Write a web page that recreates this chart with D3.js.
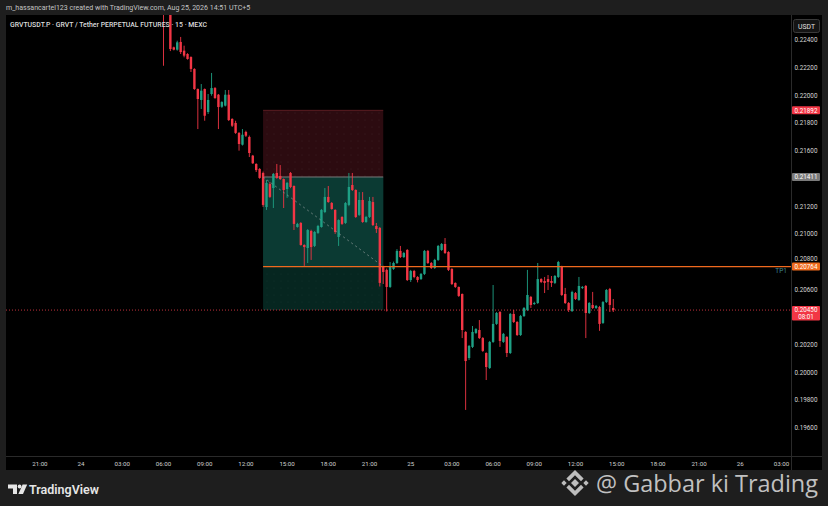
<!DOCTYPE html>
<html><head><meta charset="utf-8">
<script src="https://cdn.jsdelivr.net/npm/d3@7"></script>
<style>
html,body{margin:0;padding:0;background:#1e1e1e;}
svg{display:block;}
</style></head><body>
<svg id="c" width="828" height="506"></svg>
<script>
// ---------- DATA ----------
const candleStart = new Date(2026, 7, 24, 6, 0);   // first 15m candle
const candleMinutes = 15;
// [open, high, low, close]
const candles = [
[0.22700,0.22720,0.22214,0.22680],[0.22690,0.22750,0.22600,0.22660],[0.22660,0.22680,0.22320,0.22335],
[0.22347,0.22352,0.22325,0.22330],[0.22330,0.22395,0.22323,0.22383],[0.22386,0.22422,0.22299,0.22313],
[0.22323,0.22359,0.22275,0.22287],[0.22299,0.22305,0.22258,0.22263],[0.22277,0.22282,0.22169,0.22191],
[0.22191,0.22196,0.22040,0.22046],[0.22046,0.22050,0.21757,0.21974],[0.21967,0.22082,0.21902,0.22034],
[0.22046,0.22050,0.21817,0.21853],[0.21880,0.22010,0.21866,0.21967],[0.22010,0.22162,0.21998,0.22053],
[0.22053,0.22060,0.21975,0.21981],[0.22005,0.22010,0.21757,0.21916],[0.21918,0.21958,0.21910,0.21952],
[0.21926,0.22039,0.21920,0.22005],[0.22005,0.22039,0.21815,0.21822],[0.21830,0.21835,0.21772,0.21781],
[0.21801,0.21817,0.21722,0.21729],[0.21729,0.21735,0.21601,0.21649],[0.21644,0.21757,0.21638,0.21716],
[0.21736,0.21745,0.21700,0.21709],[0.21700,0.21710,0.21555,0.21584],[0.21565,0.21570,0.21505,0.21510],
[0.21505,0.21510,0.21447,0.21461],[0.21469,0.21475,0.21398,0.21404],[0.21440,0.21450,0.21195,0.21209],
[0.21194,0.21390,0.21173,0.21368],[0.21360,0.21375,0.21260,0.21267],[0.21331,0.21440,0.21187,0.21433],
[0.21440,0.21505,0.21398,0.21404],[0.21418,0.21497,0.21390,0.21396],[0.21396,0.21400,0.21187,0.21317],
[0.21324,0.21375,0.21260,0.21368],[0.21440,0.21447,0.21330,0.21339],[0.21346,0.21350,0.21028,0.21072],
[0.21050,0.21080,0.21045,0.21072],[0.21079,0.21085,0.20915,0.20920],[0.20920,0.20925,0.20769,0.20905],
[0.20898,0.21035,0.20790,0.21028],[0.21021,0.21030,0.20812,0.20905],[0.20913,0.21020,0.20905,0.21014],
[0.21007,0.21065,0.21000,0.21057],[0.21050,0.21180,0.21045,0.21173],[0.21158,0.21331,0.21150,0.21267],
[0.21267,0.21346,0.21225,0.21230],[0.21223,0.21230,0.21175,0.21180],[0.21173,0.21178,0.21000,0.21014],
[0.20978,0.21105,0.20913,0.21100],[0.21122,0.21128,0.21065,0.21072],[0.21079,0.21230,0.21072,0.21223],
[0.21209,0.21440,0.21200,0.21339],[0.21353,0.21440,0.21310,0.21317],[0.21317,0.21322,0.21115,0.21122],
[0.21137,0.21302,0.21130,0.21245],[0.21245,0.21302,0.21080,0.21086],[0.21086,0.21130,0.21080,0.21122],
[0.21122,0.21267,0.21115,0.21238],[0.21230,0.21267,0.21057,0.21064],[0.21057,0.21079,0.21007,0.21035],
[0.21043,0.21050,0.20620,0.20646],[0.20761,0.20770,0.20638,0.20725],[0.20740,0.20750,0.20440,0.20617],
[0.20617,0.20797,0.20610,0.20761],[0.20747,0.20800,0.20740,0.20790],[0.20790,0.20890,0.20783,0.20877],
[0.20877,0.20913,0.20826,0.20833],[0.20833,0.20870,0.20826,0.20862],[0.20884,0.20890,0.20660,0.20667],
[0.20667,0.20740,0.20653,0.20732],[0.20732,0.20740,0.20680,0.20689],[0.20689,0.20695,0.20650,0.20667],
[0.20674,0.20718,0.20667,0.20711],[0.20711,0.20884,0.20703,0.20877],[0.20877,0.20884,0.20783,0.20790],
[0.20790,0.20797,0.20747,0.20754],[0.20754,0.20820,0.20747,0.20812],[0.20812,0.20920,0.20805,0.20913],
[0.20884,0.20934,0.20877,0.20927],[0.20927,0.20970,0.20855,0.20862],[0.20869,0.20875,0.20732,0.20740],
[0.20747,0.20752,0.20631,0.20638],[0.20646,0.20650,0.20610,0.20617],[0.20617,0.20620,0.20545,0.20552],
[0.20566,0.20570,0.20248,0.20306],[0.20292,0.20298,0.19729,0.20082],[0.20104,0.20198,0.20090,0.20191],
[0.20184,0.20335,0.20176,0.20292],[0.20285,0.20320,0.20278,0.20313],[0.20306,0.20378,0.20241,0.20248],
[0.20248,0.20255,0.20148,0.20155],[0.20140,0.20145,0.19945,0.20039],[0.20032,0.20227,0.20025,0.20220],
[0.20220,0.20631,0.20213,0.20350],[0.20350,0.20436,0.20343,0.20429],[0.20436,0.20443,0.20184,0.20227],
[0.20220,0.20285,0.20213,0.20278],[0.20256,0.20262,0.20111,0.20140],[0.20140,0.20429,0.20133,0.20422],
[0.20422,0.20451,0.20357,0.20364],[0.20364,0.20370,0.20263,0.20270],[0.20270,0.20415,0.20263,0.20407],
[0.20407,0.20472,0.20400,0.20465],[0.20451,0.20740,0.20443,0.20559],[0.20545,0.20552,0.20465,0.20487],
[0.20494,0.20510,0.20487,0.20501],[0.20501,0.20790,0.20494,0.20674],[0.20674,0.20680,0.20645,0.20653],
[0.20660,0.20689,0.20573,0.20646],[0.20674,0.20703,0.20595,0.20653],[0.20660,0.20696,0.20617,0.20646],
[0.20646,0.20703,0.20638,0.20696],[0.20689,0.20805,0.20682,0.20797],[0.20761,0.20770,0.20552,0.20559],
[0.20566,0.20610,0.20494,0.20501],[0.20501,0.20508,0.20436,0.20451],[0.20443,0.20590,0.20436,0.20581],
[0.20573,0.20580,0.20523,0.20530],[0.20523,0.20689,0.20516,0.20624],[0.20610,0.20624,0.20602,0.20617],
[0.20624,0.20631,0.20248,0.20429],[0.20429,0.20508,0.20422,0.20501],[0.20487,0.20581,0.20458,0.20465],
[0.20465,0.20487,0.20458,0.20480],[0.20472,0.20480,0.20300,0.20350],[0.20357,0.20515,0.20350,0.20508],
[0.20508,0.20602,0.20501,0.20595],[0.20602,0.20610,0.20436,0.20487],[0.20465,0.20530,0.20436,0.20450]
];
const priceTicks = [0.224,0.222,0.220,0.218,0.216,0.212,0.210,0.208,0.206,0.202,0.200,0.198,0.196];
const timeTickStart = new Date(2026, 7, 23, 21, 0);
const timeTickLabels = ["21:00","24","03:00","06:00","09:00","12:00","15:00","18:00","21:00","25",
                        "03:00","06:00","09:00","12:00","15:00","18:00","21:00","26","03:00"];
const position = { start: new Date(2026,7,24,13,15), end: new Date(2026,7,24,22,0),
                   stop: 0.21892, entry: 0.21411, close: 0.20764, target: 0.20450 };
const tpLevel = 0.20764, tpName = "TP1", tpStart = new Date(2026,7,24,13,15);
const lastPrice = 0.20450, countdown = "08:01";
const headerText = "m_hassancartel123 created with TradingView.com, Aug 25, 2026 14:51 UTC+5";
const legendText = "GRVTUSDT.P · GRVT / Tether PERPETUAL FUTURES · 15 · MEXC";
const watermark = "@ Gabbar ki Trading";

// ---------- LAYOUT ----------
const svg = d3.select("#c");
const pane = {l: 6, r: 822, t: 15, b: 470};
const plot = {l: 6, r: 791, t: 15, b: 456};
const UP = "#1ea085", DOWN = "#f23645";
const font = "Roboto, 'Liberation Sans', sans-serif";

const x = d3.scaleTime()
  .domain([new Date(2026,7,24,6,0), new Date(2026,7,26,3,0)])
  .range([163.5, 781.5]);
const y = d3.scaleLinear().domain([0.196, 0.224]).range([427.8, 40]);
const step = x(d3.timeMinute.offset(candleStart, candleMinutes)) - x(candleStart);
const bodyW = step * 0.7;

const defs = svg.append("defs");
defs.append("clipPath").attr("id","plotclip").append("rect")
  .attr("x",plot.l).attr("y",plot.t).attr("width",plot.r-plot.l).attr("height",plot.b-plot.t);
const pat = defs.append("pattern").attr("id","dots").attr("width",7).attr("height",7)
  .attr("patternUnits","userSpaceOnUse");
pat.append("circle").attr("cx",1).attr("cy",1).attr("r",0.45).attr("fill","rgba(255,255,255,0.14)");

// pane background
svg.append("rect").attr("x",pane.l).attr("y",pane.t).attr("width",pane.r-pane.l).attr("height",pane.b-pane.t).attr("fill","#000");

// header
svg.append("text").attr("x",6).attr("y",9.5).attr("font-family",font).attr("font-size",7.05)
  .attr("fill","#c4c4c4").text(headerText);

const g = svg.append("g").attr("clip-path","url(#plotclip)");

// position tool
const bx0 = x(position.start), bx1 = x(position.end);
g.append("rect").attr("x",bx0).attr("width",bx1-bx0).attr("y",y(position.stop))
  .attr("height",y(position.entry)-y(position.stop)).attr("fill","#2c0b10");
g.append("rect").attr("x",bx0).attr("width",bx1-bx0).attr("y",y(position.stop))
  .attr("height",y(position.entry)-y(position.stop)).attr("fill","url(#dots)");
g.append("rect").attr("x",bx0).attr("width",bx1-bx0).attr("y",y(position.entry))
  .attr("height",y(position.target)-y(position.entry)).attr("fill","#062620");
g.append("rect").attr("x",bx0).attr("width",bx1-bx0).attr("y",y(position.entry))
  .attr("height",y(position.close)-y(position.entry)).attr("fill","#0b3a33");
g.append("rect").attr("x",bx0).attr("width",bx1-bx0).attr("y",y(position.close))
  .attr("height",y(position.target)-y(position.close)).attr("fill","url(#dots)").attr("opacity",0.6);
g.append("line").attr("x1",bx0).attr("x2",bx1).attr("y1",y(position.stop)).attr("y2",y(position.stop))
  .attr("stroke","#5a1c22").attr("stroke-width",1);
g.append("line").attr("x1",bx0).attr("x2",bx1).attr("y1",y(position.entry)).attr("y2",y(position.entry))
  .attr("stroke","#7b7b7b").attr("stroke-width",1);

// last price dotted line
g.append("line").attr("x1",plot.l).attr("x2",plot.r).attr("y1",y(lastPrice)).attr("y2",y(lastPrice))
  .attr("stroke","#c0303c").attr("stroke-width",1).attr("stroke-dasharray","1,2");

// candles
const cg = g.append("g");
candles.forEach((c, i) => {
  const t = d3.timeMinute.offset(candleStart, i*candleMinutes);
  const cx = x(t);
  const [o,h,l,cl] = c;
  const col = cl >= o ? UP : DOWN;
  cg.append("line").attr("x1",cx).attr("x2",cx).attr("y1",y(h)).attr("y2",y(l))
    .attr("stroke",col).attr("stroke-width",0.9);
  const top = y(Math.max(o,cl)), bot = y(Math.min(o,cl));
  cg.append("rect").attr("x",cx-bodyW/2).attr("width",bodyW)
    .attr("y",top).attr("height",Math.max(1,bot-top)).attr("fill",col);
});

// dashed trade line
g.append("line").attr("x1",bx0).attr("y1",y(position.entry)).attr("x2",bx1).attr("y2",y(position.close))
  .attr("stroke","#8d9a9a").attr("stroke-width",0.9).attr("stroke-dasharray","2,3").attr("opacity",0.8);

// TP line
g.append("line").attr("x1",x(tpStart)).attr("x2",plot.r).attr("y1",y(tpLevel)).attr("y2",y(tpLevel))
  .attr("stroke","#f0691e").attr("stroke-width",1.3);
svg.append("text").attr("x",787).attr("y",y(tpLevel)+6.5).attr("text-anchor","end")
  .attr("font-family",font).attr("font-size",6.5).attr("fill","#3f8790").text(tpName);

// legend
svg.append("text").attr("x",10).attr("y",26.5).attr("font-family",font).attr("font-size",6.9)
  .attr("font-weight",500).attr("fill","#dcdcdc").text(legendText);

// axis separators
svg.append("line").attr("x1",plot.r+0.5).attr("x2",plot.r+0.5).attr("y1",pane.t).attr("y2",pane.b)
  .attr("stroke","#2a2a2a");
svg.append("line").attr("x1",pane.l).attr("x2",pane.r).attr("y1",plot.b+0.5).attr("y2",plot.b+0.5)
  .attr("stroke","#2a2a2a");

// price axis
const axisX = 806;
const tpLabelTop = y(tpLevel) - 4;
defs.append("clipPath").attr("id","aboveTp").append("rect")
  .attr("x",791).attr("y",0).attr("width",40).attr("height",tpLabelTop);
const pa = svg.append("g");
priceTicks.forEach(p => {
  let ty = y(p) + 2.3;
  const hidden = ty > tpLabelTop - 4 && ty < tpLabelTop + 10;
  if (hidden) ty = tpLabelTop - 1.7;   // tick peeks out above the TP label, as in the reference
  const t = pa.append("text").attr("x",axisX).attr("y",ty).attr("text-anchor","middle")
    .attr("font-family",font).attr("font-size",6.3).attr("fill","#d6d6d6").text(p.toFixed(5));
  if (hidden) t.attr("clip-path","url(#aboveTp)");
});
function priceLabel(p, bg, fg, lines) {
  const h = lines.length > 1 ? 14.5 : 8;
  const yy = y(p) - 4;
  pa.append("rect").attr("x",792).attr("y",yy).attr("width",28).attr("height",h).attr("rx",1).attr("fill",bg);
  lines.forEach((s, k) => {
    pa.append("text").attr("x",axisX).attr("y",yy+6.2+k*6.8).attr("text-anchor","middle")
      .attr("font-family",font).attr("font-size",6.3).attr("fill",fg).text(s);
  });
}
priceLabel(position.stop, "#f23645", "#fff", [position.stop.toFixed(5)]);
priceLabel(position.entry, "#7a7a7a", "#fff", [position.entry.toFixed(5)]);
priceLabel(tpLevel, "#f06a1c", "#fff", [tpLevel.toFixed(5)]);
priceLabel(lastPrice, "#f23645", "#fff", [lastPrice.toFixed(5), countdown]);

// USDT button
svg.append("rect").attr("x",793.5).attr("y",19.5).attr("width",26).attr("height",13).attr("rx",2)
  .attr("fill","#141414").attr("stroke","#3a3a3a");
svg.append("text").attr("x",806.5).attr("y",28.5).attr("text-anchor","middle").attr("font-family",font)
  .attr("font-size",6.8).attr("fill","#e0e0e0").text("USDT");

// time axis
timeTickLabels.forEach((lab, k) => {
  const t = d3.timeHour.offset(timeTickStart, 3*k);
  svg.append("text").attr("x",x(t)).attr("y",465.5).attr("text-anchor","middle")
    .attr("font-family",font).attr("font-size",6.2).attr("fill","#d0d0d0").text(lab);
});

// TradingView logo
const lg = svg.append("g").attr("fill","#e6e6e6");
lg.append("path").attr("d","M8 484.5 h9 v9.5 h-4 v-5.6 h-5z");
lg.append("circle").attr("cx",19.6).attr("cy",486.5).attr("r",1.9);
lg.append("path").attr("d","M22.6 484.5 h4.6 l-4.2 9.5 h-4.6z");
svg.append("text").attr("x",29).attr("y",493.8).attr("font-family",font).attr("font-size",12.5)
  .attr("font-weight",600).attr("fill","#e6e6e6").text("TradingView");

// watermark
const wg = svg.append("g").attr("fill","#cfcfcf").attr("opacity",0.9);
wg.append("polygon").attr("points","575,479 579,483 575,487 571,483");
wg.append("polygon").attr("points","564,480.3 566.7,483 564,485.7 561.3,483");
wg.append("polygon").attr("points","586,480.3 588.7,483 586,485.7 583.3,483");
wg.append("polygon").attr("points","575,470 583.6,478.6 581,481.2 575,475.2 569,481.2 566.4,478.6");
wg.append("polygon").attr("points","575,496 583.6,487.4 581,484.8 575,490.8 569,484.8 566.4,487.4");
svg.append("text").attr("x",596).attr("y",491.5).attr("font-family","'Open Sans', 'Noto Sans', sans-serif")
  .attr("font-size",23).attr("fill","#cfcfcf").attr("opacity",0.92)
  .attr("textLength",222).attr("lengthAdjust","spacingAndGlyphs").text(watermark);
</script>
</body></html>
